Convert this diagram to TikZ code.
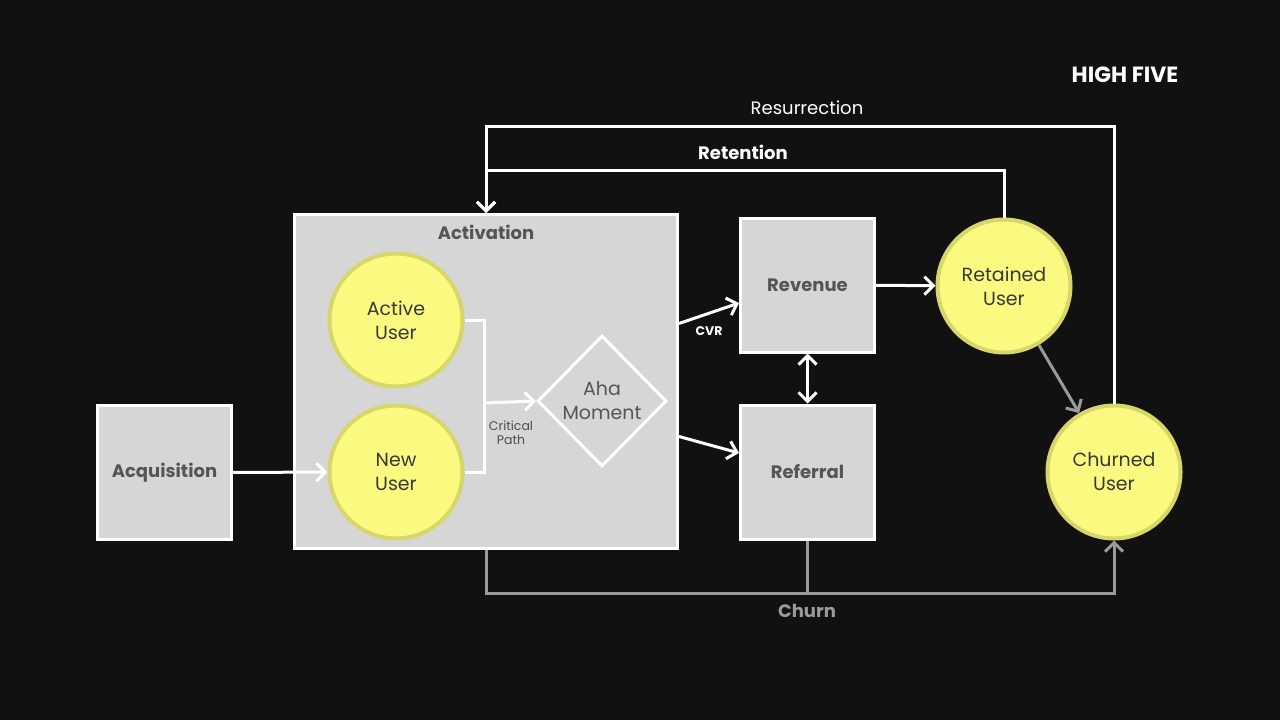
\documentclass[tikz,border=0pt]{standalone}
\usepackage{fontspec}
\setmainfont{Poppins}
\usetikzlibrary{arrows.meta,shapes.geometric}

\definecolor{bgdark}{HTML}{111111}
\definecolor{boxgray}{HTML}{D6D6D6}
\definecolor{txtgray}{HTML}{555555}
\definecolor{userfill}{HTML}{FAFA80}
\definecolor{useredge}{HTML}{D6D66A}
\definecolor{churngray}{HTML}{9A9A9A}

\tikzset{
  stagebox/.style={draw=white, line width=3pt, fill=boxgray, minimum width=134pt, minimum height=134pt,
    text=txtgray, font=\fontsize{18}{20}\selectfont\bfseries},
  userstate/.style={circle, draw=useredge, line width=4pt, fill=userfill, minimum size=133pt, inner sep=0pt,
    align=center, text=black!78, font=\fontsize{19}{24}\selectfont},
  flowline/.style={draw=white, line width=3pt},
  flow/.style={flowline, -{Straight Barb[length=9pt,width=18pt]}},
  churnline/.style={draw=churngray, line width=3pt},
  churnflow/.style={churnline, -{Straight Barb[length=9pt,width=18pt]}},
  smalltext/.style={font=\fontsize{12.5}{14.5}\selectfont, align=center}
}

\begin{document}
\begin{tikzpicture}[x=1pt,y=-1pt]
		\fill[bgdark] (0,0) rectangle (1280,720);
		\useasboundingbox (0,0) rectangle (1280,720);
		
		\node[font=\fontsize{22}{24}\selectfont\bfseries, text=white] (brand) at (1125,75) {HIGH FIVE};
		
		% activation block
		\node[stagebox, minimum width=383pt, minimum height=334pt] (activation) at (486,381.5) {};
		\node[text=txtgray, font=\fontsize{18}{20}\selectfont\bfseries] (acttitle) at (486,232) {Activation};
		\node[userstate] (active) at (396,320) {Active\\User};
		\node[userstate] (newuser) at (396,472) {New\\User};
		\node[diamond, draw=white, line width=3pt, minimum width=129pt, minimum height=131pt, inner sep=0pt,
		  align=center, text=txtgray, font=\fontsize{19}{24}\selectfont] (aha) at (602,401) {Aha\\Moment};
		\node[smalltext, text=black!70] (critpath) at (511,433) {Critical\\Path};
		\coordinate (cpjoin) at (484,403);
		
		% other stages
		\node[stagebox] (acq) at (164.5,472.5) {Acquisition};
		\node[stagebox] (revenue) at (807.5,285) {Revenue};
		\node[stagebox] (referral) at (807.5,472) {Referral};
		\node[userstate] (retained) at (1004,286) {Retained\\User};
		\node[userstate] (churned) at (1114,472) {Churned\\User};
		
		% flows
		\draw[flow] (acq) -- (newuser);
		\draw[flowline] (active.east) -| (cpjoin) |- (newuser.east);
		\draw[flow] (cpjoin) -- (aha.west);
		\draw[flow] ([yshift=58pt]activation.east) -- ([yshift=-18pt]revenue.west);
		\node[smalltext, text=white, font=\fontsize{12.5}{14.5}\selectfont\bfseries] (cvr) at (709,331) {CVR};
		\draw[flow] ([yshift=-55pt]activation.east) -- ([yshift=19pt]referral.west);
		\draw[flowline, {Straight Barb[length=9pt,width=18pt]}-{Straight Barb[length=9pt,width=18pt]}] (revenue) -- (referral);
		\draw[flow] (revenue) -- (retained);
		\draw[churnflow] (retained) -- (churned);
		
		% loops back
		\draw[flow] (churned.north) -- ++(0,-277) -| (activation.north);
		\draw[flow] (retained.north) -- ++(0,-47) -| (activation.north);
		\node[text=white, font=\fontsize{18}{20}\selectfont] (resur) at (807,108) {Resurrection};
		\node[text=white, font=\fontsize{18}{20}\selectfont\bfseries] (retain) at (743,152) {Retention};
		
		% churn
		\draw[churnflow] (activation.south) -- ++(0,43.5) -| (churned.south);
		\draw[churnline] (referral.south) -- ++(0,51.5);
		\node[text=churngray, font=\fontsize{18}{20}\selectfont\bfseries] (churn) at (807,611) {Churn};
		
		\end{tikzpicture}
\end{document}
